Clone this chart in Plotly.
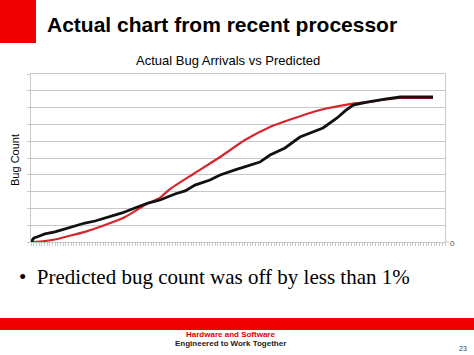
import plotly.graph_objects as go

# Data (x = time index, y = bug count in grid units)
actual_x = [0, 1.1, 2.2, 5.2, 9, 12.7, 16.5, 20.2, 24, 27.7, 31.4, 34.1, 38.9, 43.8, 48.3, 53.9,
            57.7, 61.4, 67, 70.8, 76.4, 80.1, 85.7, 89.5, 95.1, 100.7, 104.5, 109.3, 114.6,
            117.6, 120.6, 125.8, 132.5, 138.2, 143.8, 150.5]
actual_y = [0, 0.24, 0.30, 0.48, 0.60, 0.77, 0.95, 1.13, 1.25, 1.43, 1.61, 1.73, 2.02, 2.32, 2.50,
            2.86, 3.04, 3.39, 3.69, 3.99, 4.29, 4.46, 4.76, 5.18, 5.60, 6.25, 6.49, 6.79, 7.38,
            7.80, 8.15, 8.33, 8.51, 8.63, 8.63, 8.63]

pred_x = [0, 5.2, 9, 12.7, 20.2, 27.7, 35.2, 42.7, 48.3, 52, 61.4, 70.8, 80.1, 89.5, 98.8,
          108.2, 119.4, 125.8, 138.2, 150.5]
pred_y = [0, 0.06, 0.15, 0.30, 0.60, 1.01, 1.49, 2.20, 2.64, 3.15, 4.11, 5.06, 6.07, 6.85, 7.38,
          7.86, 8.21, 8.33, 8.57, 8.57]

slide_title = "Actual chart from recent processor"
chart_title = "Actual Bug Arrivals vs Predicted"
y_title = "Bug Count"
bullet_text = "\u2022  Predicted bug count was off by less than 1%"
footer1 = "Hardware and Software"
footer2 = "Engineered to Work Together"
page_no = "23"

W, H = 474, 355
def px(x):
    return x / W
def py(y):
    return 1 - y / H

fig = go.Figure()
fig.add_trace(go.Scatter(x=pred_x, y=pred_y, mode="lines",
                         line=dict(color="#d6262b", width=2.2, shape="spline", smoothing=0.6),
                         showlegend=False, hoverinfo="skip"))
fig.add_trace(go.Scatter(x=actual_x, y=actual_y, mode="lines",
                         line=dict(color="#111111", width=2.8),
                         showlegend=False, hoverinfo="skip"))

grid = "#c8c8c8"
fig.update_layout(
    width=W, height=H,
    margin=dict(l=0, r=0, t=0, b=0),
    paper_bgcolor="white", plot_bgcolor="white",
    xaxis=dict(domain=[px(31), px(445)], range=[0, 155], showgrid=False, zeroline=False,
               showline=True, linecolor=grid, linewidth=1, mirror=True,
               ticks="outside", ticklen=3, tickcolor=grid, dtick=1, tick0=0,
               showticklabels=False),
    yaxis=dict(domain=[py(242), py(74)], range=[0, 10], dtick=1, showgrid=True,
               gridcolor=grid, gridwidth=1, zeroline=False, showline=True,
               linecolor=grid, linewidth=1, mirror=True, ticks="outside", ticklen=3,
               tickcolor=grid, showticklabels=False),
    showlegend=False,
)

shapes = [
    dict(type="rect", xref="paper", yref="paper", x0=0, x1=px(36), y0=py(43), y1=1,
         fillcolor="#ee0000", line=dict(width=0), layer="below"),
    dict(type="rect", xref="paper", yref="paper", x0=0, x1=1, y0=py(330), y1=py(318),
         fillcolor="#ee0000", line=dict(width=0)),
    dict(type="line", xref="paper", yref="paper", x0=px(445), x1=px(449), y0=py(242), y1=py(242),
         line=dict(color=grid, width=1)),
]
fig.update_layout(shapes=shapes)

ann = [
    dict(text=f"<b>{slide_title}</b>", x=px(45), y=py(24), xanchor="left", yanchor="middle",
         font=dict(family="Liberation Sans, Arial", size=21, color="#000000")),
    dict(text=chart_title, x=px(228), y=py(60), xanchor="center", yanchor="middle",
         font=dict(family="Liberation Sans, Arial", size=13, color="#000000")),
    dict(text=y_title, x=px(15), y=py(160), xanchor="center", yanchor="middle", textangle=-90,
         font=dict(family="Liberation Sans, Arial", size=11, color="#000000")),
    dict(text="0", x=px(452), y=py(243), xanchor="center", yanchor="middle",
         font=dict(family="Liberation Sans, Arial", size=8, color="#555555")),
    dict(text=bullet_text, x=px(17), y=py(277), xanchor="left", yanchor="middle",
         font=dict(family="Liberation Serif, Times New Roman", size=21, color="#000000")),
    dict(text=f"<b>{footer1}</b>", x=px(230), y=py(334), xanchor="center", yanchor="middle",
         font=dict(family="Liberation Sans Narrow, Liberation Sans", size=8, color="#dd0000")),
    dict(text=f"<b>{footer2}</b>", x=px(230), y=py(343), xanchor="center", yanchor="middle",
         font=dict(family="Liberation Sans Narrow, Liberation Sans", size=8, color="#222222")),
    dict(text=page_no, x=px(463), y=py(348), xanchor="center", yanchor="middle",
         font=dict(family="Liberation Sans, Arial", size=7, color="#444444")),
]
for a in ann:
    a.update(xref="paper", yref="paper", showarrow=False)
fig.update_layout(annotations=ann)

fig.write_html("out.html", config={"displayModeBar": False},
               post_script="document.body.style.margin='0';document.body.style.overflow='hidden';")
